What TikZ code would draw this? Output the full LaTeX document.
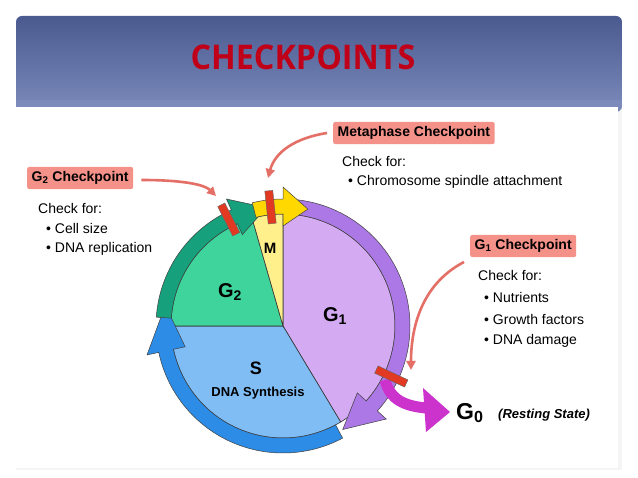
\documentclass[tikz,border=0pt]{standalone}
\usepackage{fontspec}
\setmainfont{Liberation Sans}
\newfontfamily\titlefont{Open Sans}
\usetikzlibrary{calc,arrows.meta}
\definecolor{hdA}{HTML}{4A5A90}
\definecolor{hdB}{HTML}{7C8ABB}
\definecolor{ttl}{HTML}{C00018}
\definecolor{salmon}{HTML}{F4928A}
\definecolor{pinkarr}{HTML}{E46F66}
\definecolor{gonep}{HTML}{D4AAF2}\definecolor{goner}{HTML}{AC78E6}
\definecolor{sp}{HTML}{80BDF5}\definecolor{sr}{HTML}{2C8CE6}
\definecolor{gtwop}{HTML}{3FD49B}\definecolor{gtwor}{HTML}{16A07B}
\definecolor{mp}{HTML}{FFF08C}\definecolor{mr}{HTML}{FFD800}
\definecolor{chk}{HTML}{E23A22}
\definecolor{mag}{HTML}{CC33CC}
\newcommand{\ringarrow}[4]{%
  \fill[#1,draw=black!75,line width=0.5pt]
    ($(C)+(#2:112)$) arc[start angle=#2,end angle=#3,radius=112]
    -- ($(C)+(#3:100)$) -- ($(C)+(#4:119.5)$) -- ($(C)+(#3:139)$)
    -- ($(C)+(#3:127)$) arc[start angle=#3,end angle=#2,radius=127] -- cycle;}
\newcommand{\chkbar}[1]{%
  \fill[chk,draw=black!60,line width=0.4pt]
    ($(C)+(#1:103)+(#1+90:4)$) -- ($(C)+(#1:136)+(#1+90:4)$)
    -- ($(C)+(#1:136)+(#1-90:4)$) -- ($(C)+(#1:103)+(#1-90:4)$) -- cycle;}
\tikzset{
  lbl/.style={font=\bfseries\fontsize{14}{16}\selectfont,fill=salmon,rounded corners=2pt,inner sep=4.5pt,anchor=west},
  txt/.style={font=\fontsize{14}{16}\selectfont,anchor=west,inner sep=0},
  phase/.style={font=\bfseries,inner sep=0},
  parr/.style={pinkarr,line width=2.6pt,-{Triangle[length=9pt,width=9pt]}}
}
\begin{document}
\begin{tikzpicture}[x=1pt,y=-1pt]
\useasboundingbox (0,0) rectangle (638,478);
\fill[white] (0,0) rectangle (638,478);
\fill[black!4] (16,100) rectangle (622,470);
\shade[top color=hdA,bottom color=hdB,rounded corners=6pt] (16,16) rectangle (622,112);
\fill[hdB] (16,100) rectangle (622,107);
\fill[white] (16,107) rectangle (618,468);
\node[font=\titlefont\bfseries\fontsize{34}{36}\selectfont,text=ttl,xscale=0.95] (title) at (303,57) {CHECKPOINTS};
\coordinate (C) at (283,326);
% pie
\fill[gonep,draw=black!80,line width=0.6pt] (C) -- ++(-90:112) arc[start angle=-90,end angle=59,radius=112] -- cycle;
\fill[sp,draw=black!80,line width=0.6pt] (C) -- ++(59:112) arc[start angle=59,end angle=180,radius=112] -- cycle;
\fill[gtwop,draw=black!80,line width=0.6pt] (C) -- ++(180:112) arc[start angle=180,end angle=254,radius=112] -- cycle;
\fill[mp,draw=black!80,line width=0.6pt] (C) -- ++(254:112) arc[start angle=254,end angle=270,radius=112] -- cycle;
% ring arrows
\ringarrow{sr}{62}{168}{190}
\ringarrow{gtwor}{184}{246}{262}
\ringarrow{goner}{272}{402}{420}
\ringarrow{mr}{256}{270}{282}
% checkpoints bars
\chkbar{243}
\chkbar{264}
% G0 arrow
\draw[mag,line width=11pt] (385,380) .. controls (390,400) and (405,406) .. (426,408);
\fill[mag] (423,388) -- (450,412) -- (426,432) -- cycle;
\chkbar{25}
% labels
\node[phase,font=\bfseries\fontsize{15}{16}\selectfont] (m) at (270,248) {M};
\node[phase,font=\bfseries\fontsize{20}{20}\selectfont] (g2) at (230,292) {G\textsubscript{2}};
\node[phase,font=\bfseries\fontsize{20}{20}\selectfont] (g1) at (335,316) {G\textsubscript{1}};
\node[phase,font=\bfseries\fontsize{18}{18}\selectfont] (s) at (256,368) {S};
\node[phase,font=\bfseries\fontsize{13}{14}\selectfont] (dna) at (258,393) {DNA Synthesis};
\node[phase,font=\bfseries\fontsize{23}{22}\selectfont,anchor=west] (g0) at (456,413) {G\textsubscript{0}};
\node[font=\bfseries\itshape\fontsize{13}{14}\selectfont,anchor=west,inner sep=0] (rest) at (498,415) {(Resting State)};
% callouts
\node[lbl] (g2c) at (27,178) {G\textsubscript{2} Checkpoint};
\node[txt] (g2a) at (38,208) {Check for:};
\node[txt] (g2b) at (46,228) {\textbullet\ Cell size};
\node[txt] (g2d) at (46,249) {\textbullet\ DNA replication};
\node[lbl] (mc) at (333,133) {Metaphase Checkpoint};
\node[txt] (ma) at (342,161) {Check for:};
\node[txt] (mb) at (348,182) {\textbullet\ Chromosome spindle attachment};
\node[lbl] (g1c) at (470,246) {G\textsubscript{1} Checkpoint};
\node[txt] (g1a) at (478,275) {Check for:};
\node[txt] (g1b) at (484,297) {\textbullet\ Nutrients};
\node[txt] (g1d) at (484,319) {\textbullet\ Growth factors};
\node[txt] (g1e) at (484,341) {\textbullet\ DNA damage};
\coordinate (e1) at (216,196);
\coordinate (e2) at (268,178);
\coordinate (e3) at (411,370);
\draw[parr] (g2c.east)+(8,2) .. controls (185,180) and (205,185) .. (e1);
\draw[parr] (mc.west)+(-6,0) .. controls (295,138) and (275,152) .. (e2);
\draw[parr] (g1c.west)+(-6,16) .. controls (420,285) and (411,330) .. (e3);
\end{tikzpicture}
\end{document}
